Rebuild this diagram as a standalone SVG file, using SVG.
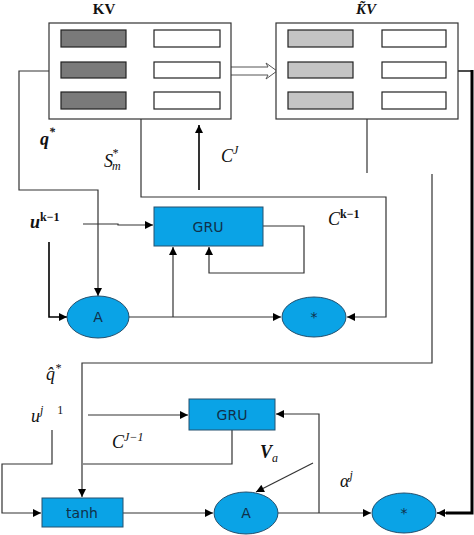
<svg xmlns="http://www.w3.org/2000/svg" width="474" height="535" viewBox="0 0 474 535">
<style>
.ln{fill:none;stroke:#333;stroke-width:1.2}
.lb{fill:none;stroke:#000;stroke-width:1.6}
.box{fill:#fff;stroke:#333;stroke-width:1.2}
.dk{fill:#7a7a7a;stroke:#222;stroke-width:1.2}
.lt{fill:#c4c4c4;stroke:#222;stroke-width:1.2}
.wt{fill:#fff;stroke:#222;stroke-width:1.2}
.blue{fill:#0aa3e6;stroke:#24506e;stroke-width:1}
.bt{font-family:"DejaVu Sans","Liberation Sans",sans-serif;font-size:14px;fill:#10304a;text-anchor:middle}
.m{font-family:"Liberation Serif","Times New Roman",serif;font-style:italic;font-size:18px;fill:#111}
.sup{font-size:12px}
.ttl{font-family:"Liberation Serif","Times New Roman",serif;font-weight:bold;font-size:15px;fill:#111;text-anchor:middle}
</style>
<defs>
<marker id="ah" viewBox="0 0 10 10" refX="10" refY="5" markerWidth="10" markerHeight="8" markerUnits="userSpaceOnUse" orient="auto">
<path d="M0,0 L10,5 L0,10 z" fill="#000"/>
</marker>
</defs>
<rect width="474" height="535" fill="#fff"/>

<g id="connectors">
<polyline class="ln" points="49,71 19,71 19,190 98,190 98,296" marker-end="url(#ah)"/>
<polyline class="ln" points="141,119 141,197 386,197 386,317 347,317" marker-end="url(#ah)"/>
<line class="lb" x1="199" y1="190" x2="199" y2="125" marker-end="url(#ah)"/>
<polyline class="ln" points="83,224 118,224 118,225 153,225" marker-end="url(#ah)"/>
<polyline class="lb" points="49,242 49,317 67,317" marker-end="url(#ah)"/>
<polyline class="ln" points="263,226 304,226 304,273 209,273 209,247" marker-end="url(#ah)"/>
<line class="ln" x1="129" y1="317" x2="281" y2="317" marker-end="url(#ah)"/>
<line class="ln" x1="173" y1="317" x2="173" y2="247" marker-end="url(#ah)"/>
<path d="M231,67 L268,67 L266,63 L277,71 L266,79 L268,75 L231,75" fill="#fff" stroke="#555" stroke-width="1"/>
<line class="ln" x1="367" y1="119" x2="367" y2="173"/>
<polyline class="ln" points="432,174 432,363 82,363 82,497" marker-end="url(#ah)"/>
<polyline fill="none" stroke="#000" stroke-width="1.4" points="458,71 472,71"/>
<polyline fill="none" stroke="#000" stroke-width="3" points="472,70 472,513 446,513"/>
<line class="lb" x1="446" y1="513" x2="437" y2="513" marker-end="url(#ah)"/>
<line class="ln" x1="88" y1="415" x2="188" y2="415" marker-end="url(#ah)"/>
<polyline class="ln" points="232,430 232,464 83,464"/>
<polyline class="ln" points="52,430 52,464 2,464 2,513 41,513" marker-end="url(#ah)"/>
<line class="ln" x1="123" y1="513" x2="213" y2="513" marker-end="url(#ah)"/>
<line class="ln" x1="313" y1="463" x2="256" y2="492" marker-end="url(#ah)"/>
<line class="ln" x1="278" y1="513" x2="371" y2="513" marker-end="url(#ah)"/>
<polyline class="ln" points="319,513 319,414 276,414" marker-end="url(#ah)"/>
</g>

<g id="kv">
<text class="ttl" x="104" y="14">KV</text>
<rect class="box" x="49" y="23" width="182" height="96"/>
<rect class="dk" x="61" y="30" width="65" height="17"/>
<rect class="dk" x="61" y="62" width="65" height="16"/>
<rect class="dk" x="61" y="92" width="65" height="17"/>
<rect class="wt" x="154" y="30" width="66" height="17"/>
<rect class="wt" x="154" y="62" width="66" height="16"/>
<rect class="wt" x="154" y="92" width="66" height="17"/>
</g>

<g id="kv-tilde">
<text class="ttl" x="366" y="14" font-style="italic">K̃V</text>
<rect class="box" x="276" y="23" width="182" height="96"/>
<rect class="lt" x="288" y="30" width="65" height="17"/>
<rect class="lt" x="288" y="62" width="65" height="16"/>
<rect class="lt" x="288" y="92" width="65" height="17"/>
<rect class="wt" x="382" y="30" width="64" height="17"/>
<rect class="wt" x="382" y="62" width="64" height="16"/>
<rect class="wt" x="382" y="92" width="64" height="17"/>
</g>

<g id="gru1">
<rect class="blue" x="154" y="207" width="109" height="39"/>
<text class="bt" x="208" y="232" font-size="15">GRU</text>
</g>
<g id="a1">
<ellipse class="blue" cx="98" cy="317" rx="31" ry="21"/>
<text class="bt" x="98" y="322">A</text>
</g>
<g id="mul1">
<ellipse class="blue" cx="314" cy="317" rx="32" ry="20"/>
<text class="bt" x="314" y="322" font-size="11">*</text>
</g>
<g id="gru2">
<rect class="blue" x="189" y="399" width="86" height="31"/>
<text class="bt" x="232" y="420">GRU</text>
</g>
<g id="tanh">
<rect class="blue" x="42" y="498" width="81" height="29"/>
<text class="bt" x="82" y="518">tanh</text>
</g>
<g id="a2">
<ellipse class="blue" cx="246" cy="513" rx="32" ry="21"/>
<text class="bt" x="246" y="518">A</text>
</g>
<g id="mul2">
<ellipse class="blue" cx="404" cy="513" rx="32" ry="20"/>
<text class="bt" x="404" y="518" font-size="11">*</text>
</g>

<g id="labels">
<text class="m" x="40" y="145" font-weight="bold">q<tspan class="sup" dy="-9">*</tspan></text>
<text class="m" x="104" y="167">S<tspan class="sup" dy="-10" dx="-1">*</tspan><tspan class="sup" dy="13" dx="-6" font-size="13">m</tspan></text>
<text class="m" x="221" y="162">C<tspan class="sup" dy="-8">J</tspan></text>
<text class="m" x="328" y="225">C<tspan class="sup" dy="-7" font-style="normal" font-weight="bold">k−1</tspan></text>
<text class="m" x="30" y="228" font-weight="bold">u<tspan class="sup" dy="-7" font-style="normal">k−1</tspan></text>
<text class="m" x="46" y="380">q̂<tspan class="sup" dy="-8">*</tspan></text>
<text class="m" x="31" y="422">u<tspan class="sup" dy="-8">j</tspan><tspan class="sup" dx="14" font-style="normal">1</tspan></text>
<text class="m" x="112" y="448">C<tspan class="sup" dy="-7">J−1</tspan></text>
<text class="m" x="260" y="458" font-weight="bold">V<tspan class="sup" dy="4" font-weight="normal">a</tspan></text>
<text class="m" x="340" y="487">α<tspan class="sup" dy="-8">j</tspan></text>
</g>
</svg>
